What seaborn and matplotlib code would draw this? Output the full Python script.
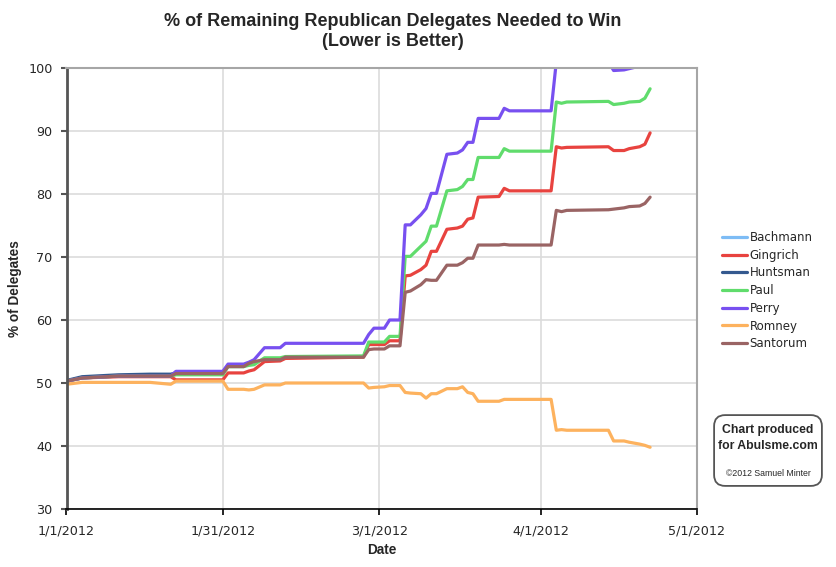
import matplotlib
matplotlib.use("Agg")
import matplotlib.pyplot as plt
from matplotlib.lines import Line2D
from matplotlib.patches import FancyBboxPatch
import seaborn as sns
import pandas as pd

# ---------------- data ----------------
dates = [
    "2012-01-01", "2012-01-04", "2012-01-11", "2012-01-17", "2012-01-21", "2012-01-22",
    "2012-01-31", "2012-02-01", "2012-02-04", "2012-02-05", "2012-02-06", "2012-02-08",
    "2012-02-11", "2012-02-12", "2012-02-27", "2012-02-28", "2012-02-29", "2012-03-02",
    "2012-03-03", "2012-03-05", "2012-03-06", "2012-03-07", "2012-03-09", "2012-03-10",
    "2012-03-11", "2012-03-12", "2012-03-14", "2012-03-16", "2012-03-17", "2012-03-18",
    "2012-03-19", "2012-03-20", "2012-03-24", "2012-03-25", "2012-03-26", "2012-04-03",
    "2012-04-04", "2012-04-05", "2012-04-06", "2012-04-14", "2012-04-15", "2012-04-17",
    "2012-04-18", "2012-04-20", "2012-04-21", "2012-04-22",
]

bachmann = [50.3, 50.8]
huntsman = [50.4, 51.0, 51.3, 51.4, 51.4, 51.6]
gingrich = [50.3, 50.8, 51.0, 51.0, 51.0, 50.5, 50.5, 51.6, 51.6, 51.9, 52.1, 53.4,
            53.5, 53.9, 54.1, 56.1, 56.1, 56.1, 56.7, 56.7, 67.0, 67.1, 68.0, 68.7,
            70.9, 70.9, 74.4, 74.6, 74.9, 76.0, 76.2, 79.5, 79.6, 80.9, 80.5, 80.5,
            87.5, 87.3, 87.4, 87.5, 86.9, 86.9, 87.2, 87.5, 87.9, 89.7]
paul = [50.3, 50.8, 51.1, 51.1, 51.1, 51.3, 51.3, 52.6, 52.6, 52.8, 52.9, 54.0,
        54.0, 54.2, 54.3, 56.5, 56.5, 56.5, 57.4, 57.4, 70.1, 70.1, 71.7, 72.5,
        74.9, 74.9, 80.5, 80.7, 81.2, 82.3, 82.3, 85.8, 85.8, 87.2, 86.8, 86.8,
        94.6, 94.4, 94.6, 94.7, 94.2, 94.4, 94.6, 94.7, 95.2, 96.7]
perry = [50.3, 50.8, 51.1, 51.1, 51.1, 51.85, 51.85, 53.0, 53.0, 53.3, 53.7, 55.6,
         55.6, 56.3, 56.3, 57.7, 58.7, 58.7, 60.0, 60.0, 75.1, 75.1, 76.7, 77.7,
         80.1, 80.1, 86.3, 86.5, 87.0, 88.2, 88.2, 92.0, 92.0, 93.6, 93.2, 93.2,
         101.0, 101.0, 101.0, 101.0, 99.6, 99.7, 99.9, 100.3, 100.6, 101.6]
romney = [49.8, 50.1, 50.1, 50.1, 49.8, 50.3, 50.3, 49.0, 49.0, 48.9, 49.0, 49.7,
          49.7, 50.0, 50.0, 49.2, 49.3, 49.4, 49.6, 49.6, 48.5, 48.4, 48.3, 47.6,
          48.3, 48.3, 49.1, 49.1, 49.4, 48.5, 48.3, 47.1, 47.1, 47.4, 47.4, 47.4,
          42.5, 42.6, 42.5, 42.5, 40.8, 40.8, 40.6, 40.3, 40.1, 39.8]
santorum = [50.3, 50.8, 51.1, 51.1, 51.1, 51.5, 51.5, 52.6, 52.6, 53.1, 53.4, 53.7,
            53.7, 54.1, 54.1, 55.3, 55.4, 55.4, 55.9, 55.9, 64.4, 64.6, 65.6, 66.4,
            66.3, 66.3, 68.7, 68.7, 69.1, 69.8, 69.8, 71.9, 71.9, 72.0, 71.9, 71.9,
            77.4, 77.2, 77.4, 77.5, 77.6, 77.8, 78.0, 78.1, 78.5, 79.5]

candidates = ["Bachmann", "Gingrich", "Huntsman", "Paul", "Perry", "Romney", "Santorum"]
series = [bachmann, gingrich, huntsman, paul, perry, romney, santorum]
colors = ["#7dbcf5", "#e8433f", "#34598f", "#60dc6c", "#7850f0", "#fdb25e", "#9a6464"]

x_ticks = ["2012-01-01", "2012-01-31", "2012-03-01", "2012-04-01", "2012-05-01"]
x_tick_labels = ["1/1/2012", "1/31/2012", "3/1/2012", "4/1/2012", "5/1/2012"]
y_ticks = [30, 40, 50, 60, 70, 80, 90, 100]

rows = []
for name, vals in zip(candidates, series):
    for d, v in zip(dates, vals):
        rows.append({"Date": pd.Timestamp(d), "Value": v, "Candidate": name})
df = pd.DataFrame(rows)

# ---------------- figure ----------------
sns.set_style("white")
plt.rcParams["font.family"] = ["DejaVu Sans"]
BOLD = ["Liberation Sans", "DejaVu Sans"]

W, H = 836, 567
fig = plt.figure(figsize=(W / 100, H / 100), dpi=100)
ax = fig.add_axes([66.5 / W, 58 / H, 630.5 / W, 441 / H])

sns.lineplot(data=df, x="Date", y="Value", hue="Candidate", hue_order=candidates,
             palette=dict(zip(candidates, colors)), estimator=None, linewidth=2.3,
             legend=False, ax=ax, solid_joinstyle="round", solid_capstyle="round")

ax.set_xlim(pd.Timestamp("2012-01-01"), pd.Timestamp("2012-05-01"))
ax.set_ylim(30, 100)
ax.set_yticks(y_ticks)
ax.set_yticklabels([str(t) for t in y_ticks])
ax.set_xticks([pd.Timestamp(t) for t in x_ticks])
ax.set_xticklabels(x_tick_labels)

ax.grid(True, color="#dcdcdc", linewidth=1.2)
ax.set_axisbelow(True)

for s in ["top", "right"]:
    ax.spines[s].set_color("#a6a6a6")
    ax.spines[s].set_linewidth(1.5)
ax.spines["left"].set_color("#555555")
ax.spines["left"].set_linewidth(2)
ax.spines["bottom"].set_color("#000000")
ax.spines["bottom"].set_linewidth(1.2)

ax.tick_params(axis="y", direction="out", length=4, width=1.5, color="#555555",
               labelsize=9.2, pad=6, left=True)
ax.tick_params(axis="x", direction="out", length=4, width=1.2, color="#000000",
               labelsize=9.2, pad=7, bottom=True)

ax.set_xlabel("Date", fontsize=9.8, fontweight="bold", family=BOLD)
ax.set_ylabel("% of Delegates", fontsize=9.8, fontweight="bold", family=BOLD)
ax.xaxis.set_label_coords((382 - 66.5) / 630.5, (509 - 550) / 441)
ax.yaxis.set_label_coords((15 - 66.5) / 630.5, 0.5)
ax.xaxis.label.set_va("center")
ax.yaxis.label.set_va("center")

fig.text(393 / W, 1 - 22 / H, "% of Remaining Republican Delegates Needed to Win",
         ha="center", va="center", fontsize=13, fontweight="bold", family=BOLD)
fig.text(393 / W, 1 - 41 / H, "(Lower is Better)",
         ha="center", va="center", fontsize=13, fontweight="bold", family=BOLD)

# legend
handles = [Line2D([0], [0], color=c, lw=2.3) for c in colors]
fig.legend(handles, candidates, loc="upper left", bbox_to_anchor=(722 / W, 1 - 231 / H),
           bbox_transform=fig.transFigure, frameon=False, fontsize=8.5,
           handlelength=2.1, handletextpad=0.25, labelspacing=0.4,
           borderpad=0, borderaxespad=0)

# credit box
bax = fig.add_axes([713 / W, 1 - 487 / H, 110 / W, 73 / H])
bax.axis("off")
bax.set_xlim(0, 1)
bax.set_ylim(0, 1)
box = FancyBboxPatch((0.01, 0.015), 0.98, 0.97, boxstyle="round,pad=0,rounding_size=0.1",
                     mutation_aspect=110 / 73, facecolor="white", edgecolor="#555555",
                     linewidth=1.3, transform=bax.transAxes, clip_on=False)
bax.add_patch(box)
bax.text(0.5, 0.78, "Chart produced", ha="center", va="center", fontsize=8.8,
         fontweight="bold", family=BOLD)
bax.text(0.5, 0.56, "for Abulsme.com", ha="center", va="center", fontsize=8.8,
         fontweight="bold", family=BOLD)
bax.text(0.5, 0.18, "\u00a92012 Samuel Minter", ha="center", va="center", fontsize=6.3,
         family=BOLD)

fig.savefig("out.png", dpi=100, facecolor="white")
